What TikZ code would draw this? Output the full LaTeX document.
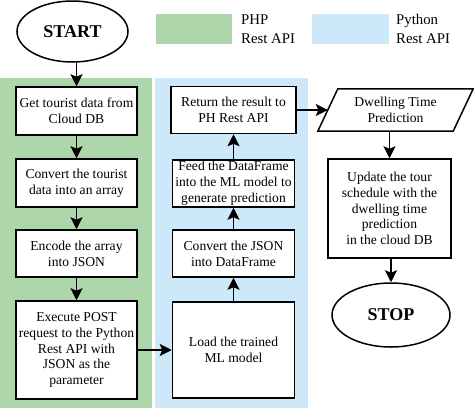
\documentclass[tikz,border=0pt]{standalone}
\usepackage{fontspec}
\setmainfont{Liberation Serif}
\usetikzlibrary{arrows.meta,shapes.geometric,calc}
\definecolor{phpgreen}{RGB}{173,214,170}
\definecolor{pyblue}{RGB}{205,232,248}
\tikzset{
  box/.style={draw=black, line width=1.5pt, fill=white, rectangle, align=center,
    inner sep=1pt, font=\fontsize{13.6}{15.8}\selectfont},
  term/.style={draw=black, line width=1.5pt, fill=white, ellipse, inner sep=0pt,
    font=\fontsize{18}{21}\selectfont\bfseries},
  arr/.style={line width=1.9pt, -{Stealth[length=12pt,width=12pt,inset=2.5pt]}},
  legtext/.style={align=left, anchor=west, inner sep=0pt, font=\fontsize{14.8}{18.5}\selectfont}
}
\begin{document}
\begin{tikzpicture}[x=1pt,y=-1pt]
\useasboundingbox (0,0) rectangle (474,410);
% panels
\fill[phpgreen] (0,78) rectangle (152,408);
\fill[pyblue] (155,78) rectangle (308,408);
% legend
\fill[phpgreen] (156,14) rectangle (232,44);
\fill[pyblue] (312,14) rectangle (389,44);
\node[legtext] (lphp) at (241,29) {PHP\\Rest API};
\node[legtext] (lpy) at (396,29) {Python\\Rest API};
% terminals
\node[term, minimum width=111, minimum height=61] (start) at (72.5,31.5) {START};
\node[term, minimum width=118, minimum height=64] (stop) at (391,315) {STOP};
% PHP column
\node[box, minimum width=121, minimum height=48] (b1) at (76.5,111) {Get tourist data from\\Cloud DB};
\node[box, minimum width=121, minimum height=48] (b2) at (76.5,183) {Convert the tourist\\data into an array};
\node[box, minimum width=121, minimum height=47] (b3) at (76.5,253.5) {Encode the array\\into JSON};
\node[box, minimum width=121, minimum height=98] (b4) at (76.5,350) {Execute POST\\request to the Python\\Rest API with\\JSON as the\\parameter};
% Python column
\node[box, minimum width=125, minimum height=47] (ret) at (233.5,110) {Return the result to\\PH Rest API};
\node[box, minimum width=122, minimum height=47] (feed) at (233.5,183.5) {Feed the DataFrame\\into the ML model to\\generate prediction};
\node[box, minimum width=122, minimum height=47] (conv) at (233.5,253.5) {Convert the JSON\\into DataFrame};
\node[box, minimum width=122, minimum height=96] (load) at (233.5,350) {Load the trained\\ML model};
% output column
\node[rectangle, inner sep=0pt, minimum width=135, minimum height=42, align=center,
  font=\fontsize{13.6}{15.8}\selectfont] (dwell) at (395.5,110) {Dwelling Time\\Prediction};
\draw[line width=1.5pt] ($(dwell.north west)+(10,0)$) -- ($(dwell.north east)+(10,0)$)
  -- ($(dwell.south east)+(-10,0)$) -- ($(dwell.south west)+(-10,0)$) -- cycle;
\node[box, minimum width=123, minimum height=99] (upd) at (389.5,208.5) {Update the tour\\schedule with the\\dwelling time\\prediction\\in the cloud DB};
% connectors
\draw[arr] (b1.north |- start.south) -- (b1.north);
\draw[arr] (b1) -- (b2);
\draw[arr] (b2) -- (b3);
\draw[arr] (b3) -- (b4);
\draw[arr] (b4) -- (load);
\draw[arr] (load) -- (conv);
\draw[arr] (conv) -- (feed);
\draw[arr] (feed) -- (ret);
\draw[arr] (ret.east) -- (dwell.west);
\draw[arr] (dwell.south -| upd.north) -- (upd.north);
\draw[arr] (upd.south -| stop.north) -- (stop.north);
\end{tikzpicture}
\end{document}
